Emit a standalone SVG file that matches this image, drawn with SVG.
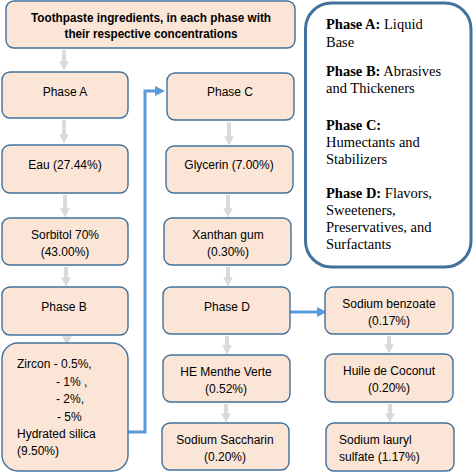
<svg xmlns="http://www.w3.org/2000/svg" width="474" height="473" viewBox="0 0 474 473">
<defs>
<style>
.box{fill:#FBE5D6;stroke:#41719C;stroke-width:1.4}
.t{font-family:"Liberation Sans",Arial,sans-serif;font-size:12px;fill:#000}
.c{text-anchor:middle}
.b{font-weight:bold}
.lg{font-family:"Liberation Serif","Times New Roman",serif;font-size:14.5px;fill:#000}
.gray{stroke:#DADADA;stroke-width:4;fill:none;marker-end:url(#ga)}
.blue{stroke:#5B9BD5;stroke-width:3;fill:none;marker-end:url(#ba)}
</style>
<marker id="ga" viewBox="0 0 10 10" refX="5" refY="5" markerWidth="2.4" markerHeight="2.4" orient="auto" markerUnits="strokeWidth">
<path d="M0,0 L10,5 L0,10 z" fill="#DADADA"/>
</marker>
<marker id="ba" viewBox="0 0 10 10" refX="2" refY="5" markerWidth="3.3" markerHeight="3.3" orient="auto" markerUnits="strokeWidth">
<path d="M0,0 L10,5 L0,10 z" fill="#5B9BD5"/>
</marker>
</defs>
<rect width="474" height="473" fill="#fff"/>
<g id="connectors">
<path class="gray" d="M64,50 V66"/>
<path class="gray" d="M64,120 V139"/>
<path class="gray" d="M65,195 V213"/>
<path class="gray" d="M66,267 V282"/>
<path class="gray" d="M67,337 V341"/>
<path class="gray" d="M229,122 V141"/>
<path class="gray" d="M228,195 V213"/>
<path class="gray" d="M228,267 V282"/>
<path class="gray" d="M227,336 V350"/>
<path class="gray" d="M226,404 V418"/>
<path class="gray" d="M389,336 V349"/>
<path class="gray" d="M390,404 V418"/>
<path class="blue" d="M128,432 H145 V91 H157"/>
<path class="blue" d="M290,312 H319"/>
</g>
<g id="title">
<rect class="box" x="6" y="1" width="289" height="47" rx="8"/>
<text class="t c b" x="151" y="22" textLength="240" lengthAdjust="spacingAndGlyphs">Toothpaste ingredients, in each phase with</text>
<text class="t c b" x="151" y="38" textLength="173" lengthAdjust="spacingAndGlyphs">their respective concentrations</text>
</g>
<g id="phaseA">
<rect class="box" x="2" y="72" width="126" height="46" rx="8"/>
<text class="t c" x="65" y="96">Phase A</text>
</g>
<g id="eau">
<rect class="box" x="2" y="145" width="126" height="48" rx="8"/>
<text class="t c" x="65" y="169">Eau (27.44%)</text>
</g>
<g id="sorbitol">
<rect class="box" x="2" y="218" width="126" height="47" rx="8"/>
<text class="t c" x="65" y="239">Sorbitol 70%</text>
<text class="t c" x="65" y="256">(43.00%)</text>
</g>
<g id="phaseB">
<rect class="box" x="2" y="287" width="126" height="48" rx="8"/>
<text class="t c" x="64" y="311">Phase B</text>
</g>
<g id="zircon">
<rect class="box" x="2" y="343" width="126" height="128" rx="16"/>
<text class="t" x="17" y="368">Zircon - 0.5%,</text>
<text class="t" x="56" y="386">- 1% ,</text>
<text class="t" x="56" y="403">- 2%,</text>
<text class="t" x="57" y="421">- 5%</text>
<text class="t" x="17" y="438">Hydrated silica</text>
<text class="t" x="17" y="455">(9.50%)</text>
</g>
<g id="phaseC">
<rect class="box" x="167" y="73" width="127" height="47" rx="8"/>
<text class="t c" x="230" y="96">Phase C</text>
</g>
<g id="glycerin">
<rect class="box" x="166" y="146" width="127" height="47" rx="8"/>
<text class="t c" x="229" y="169">Glycerin (7.00%)</text>
</g>
<g id="xanthan">
<rect class="box" x="164" y="218" width="127" height="47" rx="8"/>
<text class="t c" x="228" y="239">Xanthan gum</text>
<text class="t c" x="228" y="256">(0.30%)</text>
</g>
<g id="phaseD">
<rect class="box" x="163" y="287" width="127" height="47" rx="8"/>
<text class="t c" x="227" y="311">Phase D</text>
</g>
<g id="menthe">
<rect class="box" x="163" y="355" width="127" height="47" rx="8"/>
<text class="t c" x="226" y="376">HE Menthe Verte</text>
<text class="t c" x="226" y="393">(0.52%)</text>
</g>
<g id="saccharin">
<rect class="box" x="162" y="423" width="127" height="47" rx="8"/>
<text class="t c" x="225" y="444">Sodium Saccharin</text>
<text class="t c" x="225" y="461">(0.20%)</text>
</g>
<g id="benzoate">
<rect class="box" x="325" y="287" width="128" height="47" rx="8"/>
<text class="t c" x="389" y="308">Sodium benzoate</text>
<text class="t c" x="389" y="325">(0.17%)</text>
</g>
<g id="coconut">
<rect class="box" x="325" y="354" width="128" height="48" rx="8"/>
<text class="t c" x="389" y="375">Huile de Coconut</text>
<text class="t c" x="389" y="392">(0.20%)</text>
</g>
<g id="lauryl">
<rect class="box" x="326" y="423" width="128" height="48" rx="8"/>
<text class="t" x="339" y="444">Sodium lauryl</text>
<text class="t" x="339" y="461">sulfate (1.17%)</text>
</g>
<g id="legend">
<rect x="305.5" y="3" width="165.5" height="264" rx="26" fill="#fff" stroke="#41719C" stroke-width="3"/>
<text class="lg" x="326" y="29"><tspan font-weight="bold">Phase A:</tspan> Liquid</text>
<text class="lg" x="326" y="47">Base</text>
<text class="lg" x="326" y="76"><tspan font-weight="bold">Phase B:</tspan> Abrasives</text>
<text class="lg" x="326" y="93">and Thickeners</text>
<text class="lg" x="326" y="130"><tspan font-weight="bold">Phase C:</tspan></text>
<text class="lg" x="326" y="147">Humectants and</text>
<text class="lg" x="326" y="164">Stabilizers</text>
<text class="lg" x="326" y="198"><tspan font-weight="bold">Phase D:</tspan> Flavors,</text>
<text class="lg" x="326" y="215">Sweeteners,</text>
<text class="lg" x="326" y="232">Preservatives, and</text>
<text class="lg" x="326" y="249">Surfactants</text>
</g>
</svg>
